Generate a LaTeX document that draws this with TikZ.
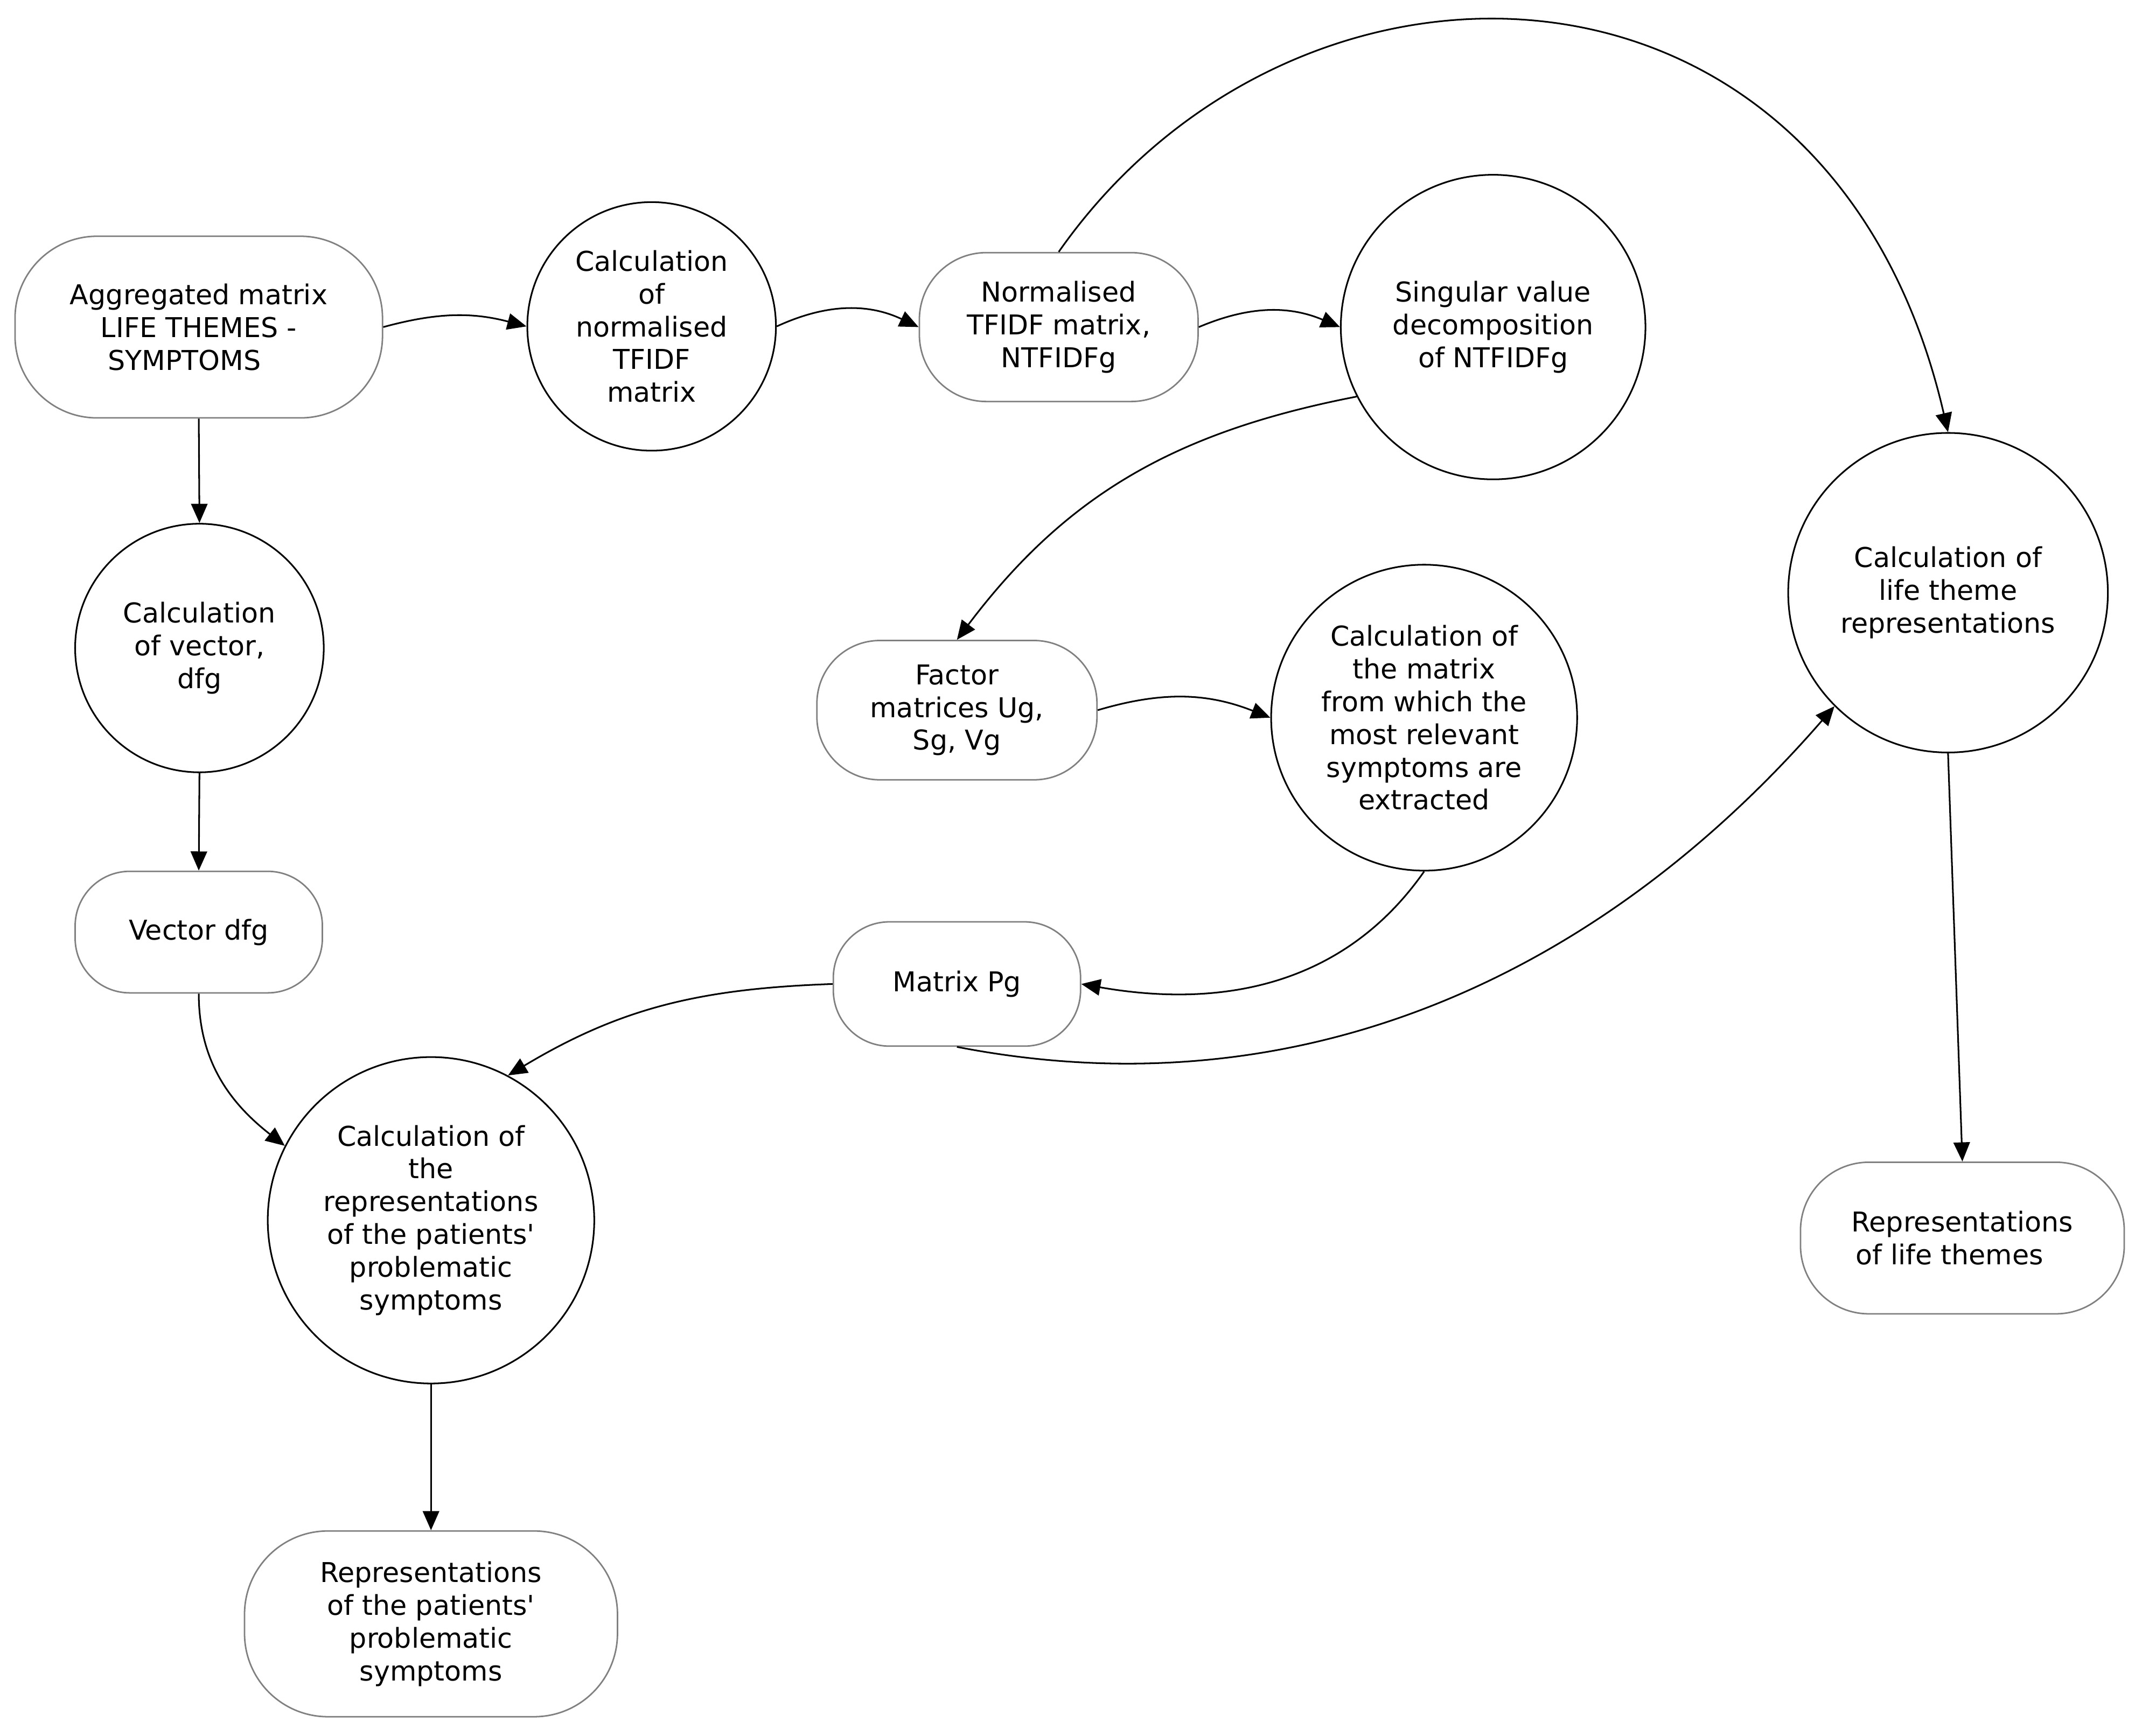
\documentclass[tikz,border=0pt]{standalone}
\usepackage{fontspec}
\setmainfont{DejaVu Sans}
\usetikzlibrary{arrows.meta}
\begin{document}
\begin{tikzpicture}[x=1pt,y=1pt,
  every node/.style={font=\fontsize{20pt}{24pt}\selectfont, align=center, inner sep=0pt},
  proc/.style={circle, draw=black, line width=1.2pt, minimum size=#1},
  box/.style={rectangle, draw=gray, line width=1.1pt},
  conn/.style={line width=1.2pt, -{Triangle[length=14pt,width=12pt]}}]
\useasboundingbox (0,0) rectangle (1568,1271);

% nodes
\node[box, minimum width=269pt, minimum height=133pt, rounded corners=60pt] (agg) at (145.5,1031.5)
  {Aggregated matrix\\LIFE THEMES -\hspace*{10pt}\\SYMPTOMS\hspace*{21pt}};
\node[proc=182pt] (calcT) at (477,1032) {Calculation\\of\\normalised\\TFIDF\\matrix};
\node[box, minimum width=204pt, minimum height=109pt, rounded corners=49pt] (ntfidf) at (775,1031.5)
  {Normalised\\TFIDF matrix,\\NTFIDFg};
\node[proc=223pt] (svd) at (1093,1031.5) {Singular value\\decomposition\\of NTFIDFg};
\node[proc=182pt] (vec) at (146,796.5) {Calculation\\of vector,\\dfg};
\node[box, minimum width=181pt, minimum height=89pt, rounded corners=40pt] (vecdfg) at (145.5,588.5) {Vector dfg};
\node[box, minimum width=205pt, minimum height=102pt, rounded corners=46pt] (factor) at (700.5,751)
  {Factor\\matrices Ug,\\Sg, Vg};
\node[proc=224pt] (calcmatrix) at (1042.5,745.5)
  {Calculation of\\the matrix\\from which the\\most relevant\\symptoms are\\extracted};
\node[box, minimum width=181pt, minimum height=91pt, rounded corners=41pt] (matrixPg) at (700.5,550.5) {Matrix Pg};
\node[proc=239pt] (calcrep) at (315.5,377.5)
  {Calculation of\\the\hspace*{12pt}\\representations\\of the patients\textquotesingle\\problematic\\symptoms};
\node[proc=234pt] (calclife) at (1426,837) {Calculation of\\life theme\\representations};
\node[box, minimum width=237pt, minimum height=111pt, rounded corners=50pt, align=left] (replife) at (1436.5,364.5)
  {Representations\\\hspace*{3pt}of life themes};
\node[box, minimum width=273pt, minimum height=136pt, rounded corners=61pt] (reppat) at (315.5,82)
  {Representations\\of the patients\textquotesingle\\problematic\\symptoms};

% connectors
\draw[conn] (agg.east) to[bend left=15] (calcT.west);
\draw[conn] (calcT.east) to[bend left=25] (ntfidf.west);
\draw[conn] (ntfidf.east) to[bend left=23] (svd.west);
\draw[conn] (svd.207) to[out=191,in=53] (factor.north);
\draw[conn] (factor.east) to[bend left=19] (calcmatrix.west);
\draw[conn] (calcmatrix.south) to[out=235,in=-10] (matrixPg.east);
\draw[conn] (matrixPg.west) to[out=182,in=31] (calcrep.62);
\draw[conn] (matrixPg.south) to[out=-11,in=229,looseness=0.96] (calclife.225);
\draw[conn] (ntfidf.north) .. controls +(55:303) and +(103:382) .. (calclife.north);
\draw[conn] (agg.south) -- (vec.north);
\draw[conn] (vec.south) -- (vecdfg.north);
\draw[conn] (vecdfg.south) to[out=270,in=142] (calcrep.153);
\draw[conn] (calcrep.south) -- (reppat.north);
\draw[conn] (calclife.south) -- (replife.north);
\end{tikzpicture}
\end{document}
